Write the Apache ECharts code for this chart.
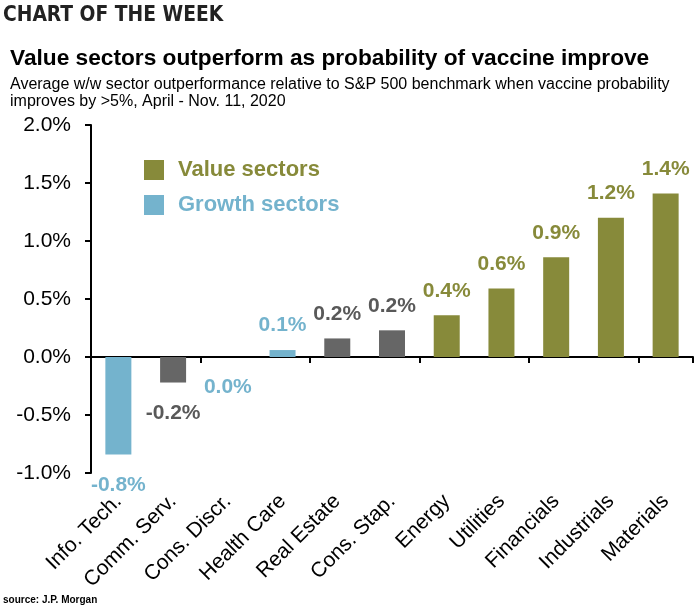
<!DOCTYPE html>
<html>
<head>
<meta charset="utf-8">
<script src="https://cdn.jsdelivr.net/npm/echarts@6/dist/echarts.min.js"></script>
<style>
html,body{margin:0;padding:0;background:#fff;}
#chart{width:700px;height:610px;}
</style>
</head>
<body>
<div id="chart"></div>
<script>
// ---- data ----
const categories = ['Info. Tech.', 'Comm. Serv.', 'Cons. Discr.', 'Health Care', 'Real Estate', 'Cons. Stap.', 'Energy', 'Utilities', 'Financials', 'Industrials', 'Materials'];
const values = [-0.84, -0.22, 0.0, 0.06, 0.16, 0.23, 0.36, 0.59, 0.86, 1.20, 1.41];
const groups = ['growth', 'neutral', 'growth', 'growth', 'neutral', 'neutral', 'value', 'value', 'value', 'value', 'value'];
const yTicks = { min: -1.0, max: 2.0, step: 0.5 };

const COLORS = { value: '#878A3A', growth: '#74B3CD', neutral: '#666666' };
const LABEL_COLORS = { value: '#878A3A', growth: '#74B3CD', neutral: '#595959' };
const NAMES = { value: 'Value sectors', growth: 'Growth sectors', neutral: 'Other sectors' };

function seriesFor(g) {
  return {
    name: NAMES[g],
    type: 'bar',
    stack: 'all',
    xAxisIndex: 0,
    barWidth: 26,
    itemStyle: { color: COLORS[g] },
    data: values.map((v, i) => {
      if (groups[i] !== g) return '-';
      return {
        value: v,
        label: {
          show: true,
          position: v > 0 ? 'top' : 'bottom',
          distance: v > 0 ? 14 : 20,
          formatter: (p) => p.value.toFixed(1) + '%',
          color: LABEL_COLORS[g],
          fontFamily: 'Liberation Sans, Arial, sans-serif',
          fontWeight: 'bold',
          fontSize: 21
        }
      };
    })
  };
}

const chart = echarts.init(document.getElementById('chart'));
const FONT = 'Liberation Sans, Arial, sans-serif';
chart.setOption({
  animation: false,
  backgroundColor: '#ffffff',
  graphic: [
    { type: 'text', left: 3, top: 5, style: { text: 'CHART OF THE WEEK', fontFamily: 'Liberation Sans Narrow, DejaVu Sans Condensed, sans-serif', fontWeight: 'bold', fontSize: 20.8, fill: '#222222' } },
    { type: 'text', left: 10, top: 47, style: { text: 'Value sectors outperform as probability of vaccine improve', fontFamily: FONT, fontWeight: 'bold', fontSize: 22.7, fill: '#000000' } },
    { type: 'text', left: 10, top: 76, style: { text: 'Average w/w sector outperformance relative to S&P 500 benchmark when vaccine probability\nimproves by >5%, April - Nov. 11, 2020', fontFamily: FONT, fontSize: 16, lineHeight: 17, fill: '#000000' } },
    { type: 'text', left: 3, top: 595, style: { text: 'source: J.P. Morgan', fontFamily: FONT, fontWeight: 'bold', fontSize: 10, fill: '#000000' } }
  ],
  legend: {
    orient: 'vertical',
    left: 139,
    top: 154,
    itemWidth: 20,
    itemHeight: 20,
    itemGap: 13,
    icon: 'rect',
    selectedMode: false,
    data: [
      { name: 'Value sectors', textStyle: { color: COLORS.value } },
      { name: 'Growth sectors', textStyle: { color: COLORS.growth } }
    ],
    textStyle: { fontFamily: FONT, fontWeight: 'bold', fontSize: 22, padding: [0, 0, 0, 9] }
  },
  grid: { left: 91, right: 7, top: 125, bottom: 137, containLabel: false },
  xAxis: [
    {
      type: 'category',
      data: categories,
      position: 'bottom',
      axisLine: { onZero: true, lineStyle: { color: '#000', width: 2 } },
      axisTick: { show: true, inside: false, length: 6, lineStyle: { color: '#000', width: 2 } },
      axisLabel: { show: false },
      splitLine: { show: false }
    },
    {
      type: 'category',
      data: categories,
      position: 'bottom',
      axisLine: { show: false, onZero: false },
      axisTick: { show: false },
      axisLabel: { show: true, interval: 0, rotate: 45, margin: 25, fontFamily: FONT, fontSize: 21, color: '#000' },
      splitLine: { show: false }
    }
  ],
  yAxis: {
    type: 'value',
    min: yTicks.min,
    max: yTicks.max,
    interval: yTicks.step,
    axisLine: { show: true, lineStyle: { color: '#000', width: 2 } },
    axisTick: { show: true, inside: false, length: 6, lineStyle: { color: '#000', width: 2 } },
    axisLabel: { margin: 20, fontFamily: FONT, fontSize: 21, color: '#000', formatter: (v) => v.toFixed(1) + '%' },
    splitLine: { show: false }
  },
  series: [seriesFor('value'), seriesFor('growth'), seriesFor('neutral')]
});
</script>
</body>
</html>
